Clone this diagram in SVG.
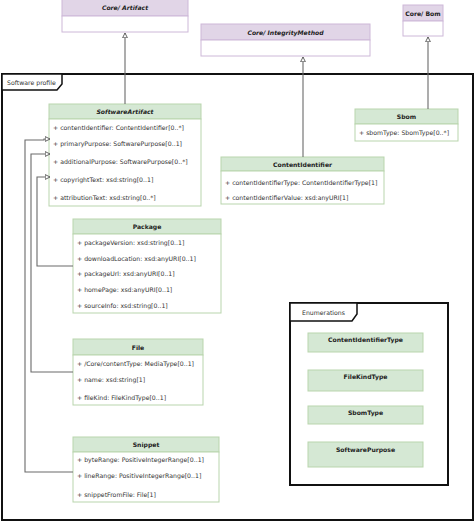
<svg xmlns="http://www.w3.org/2000/svg" width="474" height="521" viewBox="0 0 474 521">
<style>
text{font-family:"DejaVu Sans","Verdana",sans-serif;font-size:6.2px;fill:#333}
.t{font-weight:bold;text-anchor:middle;font-size:6.1px;fill:#222}
.ti{font-weight:bold;font-style:italic;text-anchor:middle;font-size:6.1px;fill:#222}
.gb{fill:#ffffff;stroke:#b9d5ad;stroke-width:1}
.gh{fill:#d5e8d4;stroke:#b9d5ad;stroke-width:1}
.pb{fill:#ffffff;stroke:#cdb8d8;stroke-width:1}
.ph{fill:#e1d5e7;stroke:#cdb8d8;stroke-width:1}
.frame{fill:none;stroke:#111;stroke-width:2}
.tab{fill:#fff;stroke:#111;stroke-width:1.5}
.c{fill:none;stroke:#6a6a6a;stroke-width:1.1}
</style>
<defs>
<marker id="gen" viewBox="0 0 10 10" refX="9" refY="5" markerWidth="6" markerHeight="6" orient="auto" markerUnits="userSpaceOnUse">
<path d="M1,1 L9,5 L1,9 Z" fill="#fff" stroke="#555" stroke-width="1.5"/>
</marker>
</defs>
<rect width="474" height="521" fill="#ffffff"/>

<g id="software-profile">
<rect class="frame" x="2" y="74" width="471" height="446"/>
<path class="tab" d="M2,74 H62 V84 L57,90 H2 Z"/>
<text x="7" y="85">Software profile</text>
</g>

<g id="enumerations">
<rect class="frame" x="290" y="303" width="158" height="182"/>
<path class="tab" d="M290,303 H357 V314 L352,321 H290 Z"/>
<text x="302" y="315">Enumerations</text>
</g>

<g id="core-artifact">
<rect class="ph" x="62" y="-2" width="126" height="18"/>
<rect class="pb" x="62" y="16" width="126" height="16"/>
<text class="ti" x="125" y="10">Core/ Artifact</text>
</g>

<g id="core-integritymethod">
<rect class="ph" x="201" y="24" width="169" height="16"/>
<rect class="pb" x="201" y="40" width="169" height="16"/>
<text class="ti" x="285.5" y="34.5">Core/ IntegrityMethod</text>
</g>

<g id="core-bom">
<rect class="ph" x="403" y="5" width="40" height="16"/>
<rect class="pb" x="403" y="21" width="40" height="15"/>
<text class="t" x="423" y="15.5">Core/ Bom</text>
</g>

<g id="software-artifact">
<rect class="gh" x="49" y="104" width="152" height="15"/>
<rect class="gb" x="49" y="119" width="152" height="87"/>
<text class="ti" x="125" y="114">SoftwareArtifact</text>
<text x="53" y="129.5">+ contentIdentifier: ContentIdentifier[0..*]</text>
<text x="53" y="145.5">+ primaryPurpose: SoftwarePurpose[0..1]</text>
<text x="53" y="163.5">+ additionalPurpose: SoftwarePurpose[0..*]</text>
<text x="53" y="181.5">+ copyrightText: xsd:string[0..1]</text>
<text x="53" y="199.5">+ attributionText: xsd:string[0..*]</text>
</g>

<g id="content-identifier">
<rect class="gh" x="221" y="157" width="163" height="14"/>
<rect class="gb" x="221" y="171" width="163" height="33"/>
<text class="t" x="302.5" y="166.5">ContentIdentifier</text>
<text x="225" y="184.5">+ contentIdentifierType: ContentIdentifierType[1]</text>
<text x="225" y="199.5">+ contentIdentifierValue: xsd:anyURI[1]</text>
</g>

<g id="sbom">
<rect class="gh" x="355" y="109" width="103" height="15"/>
<rect class="gb" x="355" y="124" width="103" height="17"/>
<text class="t" x="406.5" y="119">Sbom</text>
<text x="359" y="134.5">+ sbomType: SbomType[0..*]</text>
</g>

<g id="package">
<rect class="gh" x="73" y="219" width="148" height="15"/>
<rect class="gb" x="73" y="234" width="148" height="79"/>
<text class="t" x="147" y="229">Package</text>
<text x="77" y="244.5">+ packageVersion: xsd:string[0..1]</text>
<text x="77" y="260.5">+ downloadLocation: xsd:anyURI[0..1]</text>
<text x="77" y="275.5">+ packageUrl: xsd:anyURI[0..1]</text>
<text x="77" y="291.5">+ homePage: xsd:anyURI[0..1]</text>
<text x="77" y="307.5">+ sourceInfo: xsd:string[0..1]</text>
</g>

<g id="file">
<rect class="gh" x="73" y="339" width="130" height="16"/>
<rect class="gb" x="73" y="355" width="130" height="50"/>
<text class="t" x="138" y="349.5">File</text>
<text x="77" y="365.5">+ /Core/contentType: MediaType[0..1]</text>
<text x="77" y="381.5">+ name: xsd:string[1]</text>
<text x="77" y="399.5">+ fileKind: FileKindType[0..1]</text>
</g>

<g id="snippet">
<rect class="gh" x="73" y="437" width="146" height="15"/>
<rect class="gb" x="73" y="452" width="146" height="50"/>
<text class="t" x="146" y="446.5">Snippet</text>
<text x="77" y="461.5">+ byteRange: PositiveIntegerRange[0..1]</text>
<text x="77" y="477.5">+ lineRange: PositiveIntegerRange[0..1]</text>
<text x="77" y="496.5">+ snippetFromFile: File[1]</text>
</g>

<g id="enum-content-identifier-type">
<rect class="gh" x="308" y="333" width="115" height="19"/>
<text class="t" x="365.5" y="341.5">ContentIdentifierType</text>
</g>
<g id="enum-file-kind-type">
<rect class="gh" x="308" y="370" width="115" height="21"/>
<text class="t" x="365.5" y="378.5">FileKindType</text>
</g>
<g id="enum-sbom-type">
<rect class="gh" x="308" y="406" width="115" height="18"/>
<text class="t" x="365.5" y="414.5">SbomType</text>
</g>
<g id="enum-software-purpose">
<rect class="gh" x="308" y="442" width="115" height="25"/>
<text class="t" x="365.5" y="451.5">SoftwarePurpose</text>
</g>

<g id="connectors">
<path class="c" d="M125,104 V33" marker-end="url(#gen)"/>
<path class="c" d="M303,157 V57" marker-end="url(#gen)"/>
<path class="c" d="M428,109 V37" marker-end="url(#gen)"/>
<path class="c" d="M73,472 H25 V140 H44 V139 H50" marker-end="url(#gen)"/>
<path class="c" d="M73,372 H31 V154 H50" marker-end="url(#gen)"/>
<path class="c" d="M73,266 H37 V177 H50" marker-end="url(#gen)"/>
</g>
</svg>
